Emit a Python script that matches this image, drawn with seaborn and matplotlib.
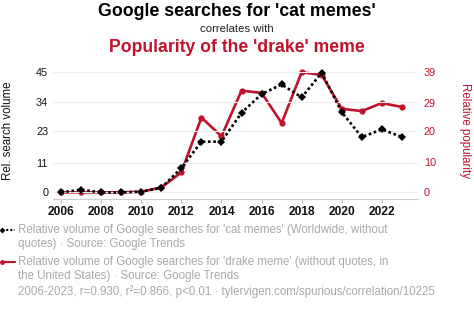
import matplotlib
matplotlib.use('Agg')
import matplotlib.pyplot as plt
from matplotlib.lines import Line2D
import seaborn as sns
import pandas as pd

# 数据
years = list(range(2006, 2024))
cat_memes = [0, 1, 0, 0, 0.3, 1.7, 9.1, 19, 19, 29.8, 36.8, 40.4, 35.6, 44.8, 30, 20.7, 23.6, 20.7]
drake_meme = [0, 0, 0, 0, 0.2, 1.6, 6.5, 24.3, 18.2, 33, 32.3, 22.5, 39, 38.1, 27.1, 26.4, 29, 27.7]
left_ticks = [0, 11, 23, 34, 45]
right_ticks = [0, 10, 20, 29, 39]
x_ticks = [2006, 2008, 2010, 2012, 2014, 2016, 2018, 2020, 2022]

RED = '#c0122d'
GRAY = '#a8a8a8'

df = pd.DataFrame({'year': years, 'cat': cat_memes, 'drake': drake_meme})

sns.set_theme(style='white')
plt.rcParams['font.family'] = ['Liberation Sans', 'DejaVu Sans']

fig = plt.figure(figsize=(4.74, 3.09), dpi=100)
ax = fig.add_axes([53 / 474, 1 - 199 / 309, (418 - 53) / 474, (199 - 68) / 309])
ax2 = ax.twinx()

# 网格线
for t in left_ticks:
    ax.axhline(t, color='#eeeeee', linewidth=0.8, zorder=0)

sns.lineplot(data=df, x='year', y='drake', ax=ax2, color=RED, linewidth=1.9,
             marker='o', markersize=4.5, markeredgewidth=0, zorder=3)
sns.lineplot(data=df, x='year', y='cat', ax=ax, color='black', linewidth=1.9,
             linestyle=(0, (1, 1)), marker='D', markersize=4, markeredgewidth=0, zorder=4)
ax.set_zorder(ax2.get_zorder() + 1)
ax.patch.set_visible(False)

lo, hi = -0.055, 1.035
ax.set_ylim(lo * 45, hi * 45)
ax2.set_ylim(lo * 39, hi * 39)
ax.set_xlim(2005.6, 2023.8)

ax.set_yticks(left_ticks)
ax.set_yticklabels([str(t) for t in left_ticks], fontsize=7.8, color='#111111')
ax2.set_yticks(right_ticks)
ax2.set_yticklabels([str(t) for t in right_ticks], fontsize=7.8, color=RED)
ax.set_xticks(x_ticks)
ax.set_xticklabels([str(t) for t in x_ticks], fontsize=8.6, fontweight='bold', color='#111111')

ax.tick_params(axis='y', length=0, pad=3.5)
ax2.tick_params(axis='y', length=0, pad=4.3)
ax.tick_params(axis='x', length=3, width=0.8, color='#bbbbbb', pad=2, direction='out', bottom=True)

for a in (ax, ax2):
    for s in ('top', 'left', 'right'):
        a.spines[s].set_visible(False)
    a.spines['bottom'].set_color('#cccccc')
    a.spines['bottom'].set_linewidth(0.8)
    a.set_xlabel('')
ax2.spines['bottom'].set_visible(False)

ax.set_ylabel('Rel. search volume', fontsize=8.3, color='#111111')
ax2.set_ylabel('Relative popularity', fontsize=8.3, color=RED, rotation=270)
ax.yaxis.label.set_va('center')
ax2.yaxis.label.set_va('center')
ax.yaxis.set_label_coords((8 - 53) / 365, 0.52)
ax2.yaxis.set_label_coords((465 - 53) / 365, 0.52)

# 标题
fig.text(0.5, 1 - 11 / 309, "Google searches for 'cat memes'", ha='center', va='center',
         fontsize=12.8, fontweight='bold', color='black')
fig.text(0.5, 1 - 29 / 309, 'correlates with', ha='center', va='center', fontsize=8.2, color='#222222')
fig.text(0.5, 1 - 47 / 309, "Popularity of the 'drake' meme", ha='center', va='center',
         fontsize=12.7, fontweight='bold', color=RED)

# 图例
legend_items = [
    (230, "Relative volume of Google searches for 'cat memes' (Worldwide, without\nquotes) · Source: Google Trends",
     dict(color='black', linestyle=(0, (1, 1)), marker='D', markersize=3)),
    (262, "Relative volume of Google searches for 'drake meme' (without quotes, in\nthe United States) · Source: Google Trends",
     dict(color=RED, linestyle='-', marker='o', markersize=3.5)),
]
for ypx, label, style in legend_items:
    yf = 1 - ypx / 309
    fig.add_artist(Line2D([2 / 474, 15 / 474], [yf, yf], transform=fig.transFigure,
                          linewidth=1.5, markevery=[0], markeredgewidth=0, **style))
    fig.text(18 / 474, yf + 6 / 309, label, ha='left', va='top', fontsize=8.3, color=GRAY,
             linespacing=1.2)

fig.text(18 / 474, 1 - 292 / 309, '2006-2023, r=0.930, r²=0.866, p<0.01 · tylervigen.com/spurious/correlation/10225',
         ha='left', va='center', fontsize=8.3, color=GRAY)

fig.savefig('out.png', dpi=100, facecolor='white')
